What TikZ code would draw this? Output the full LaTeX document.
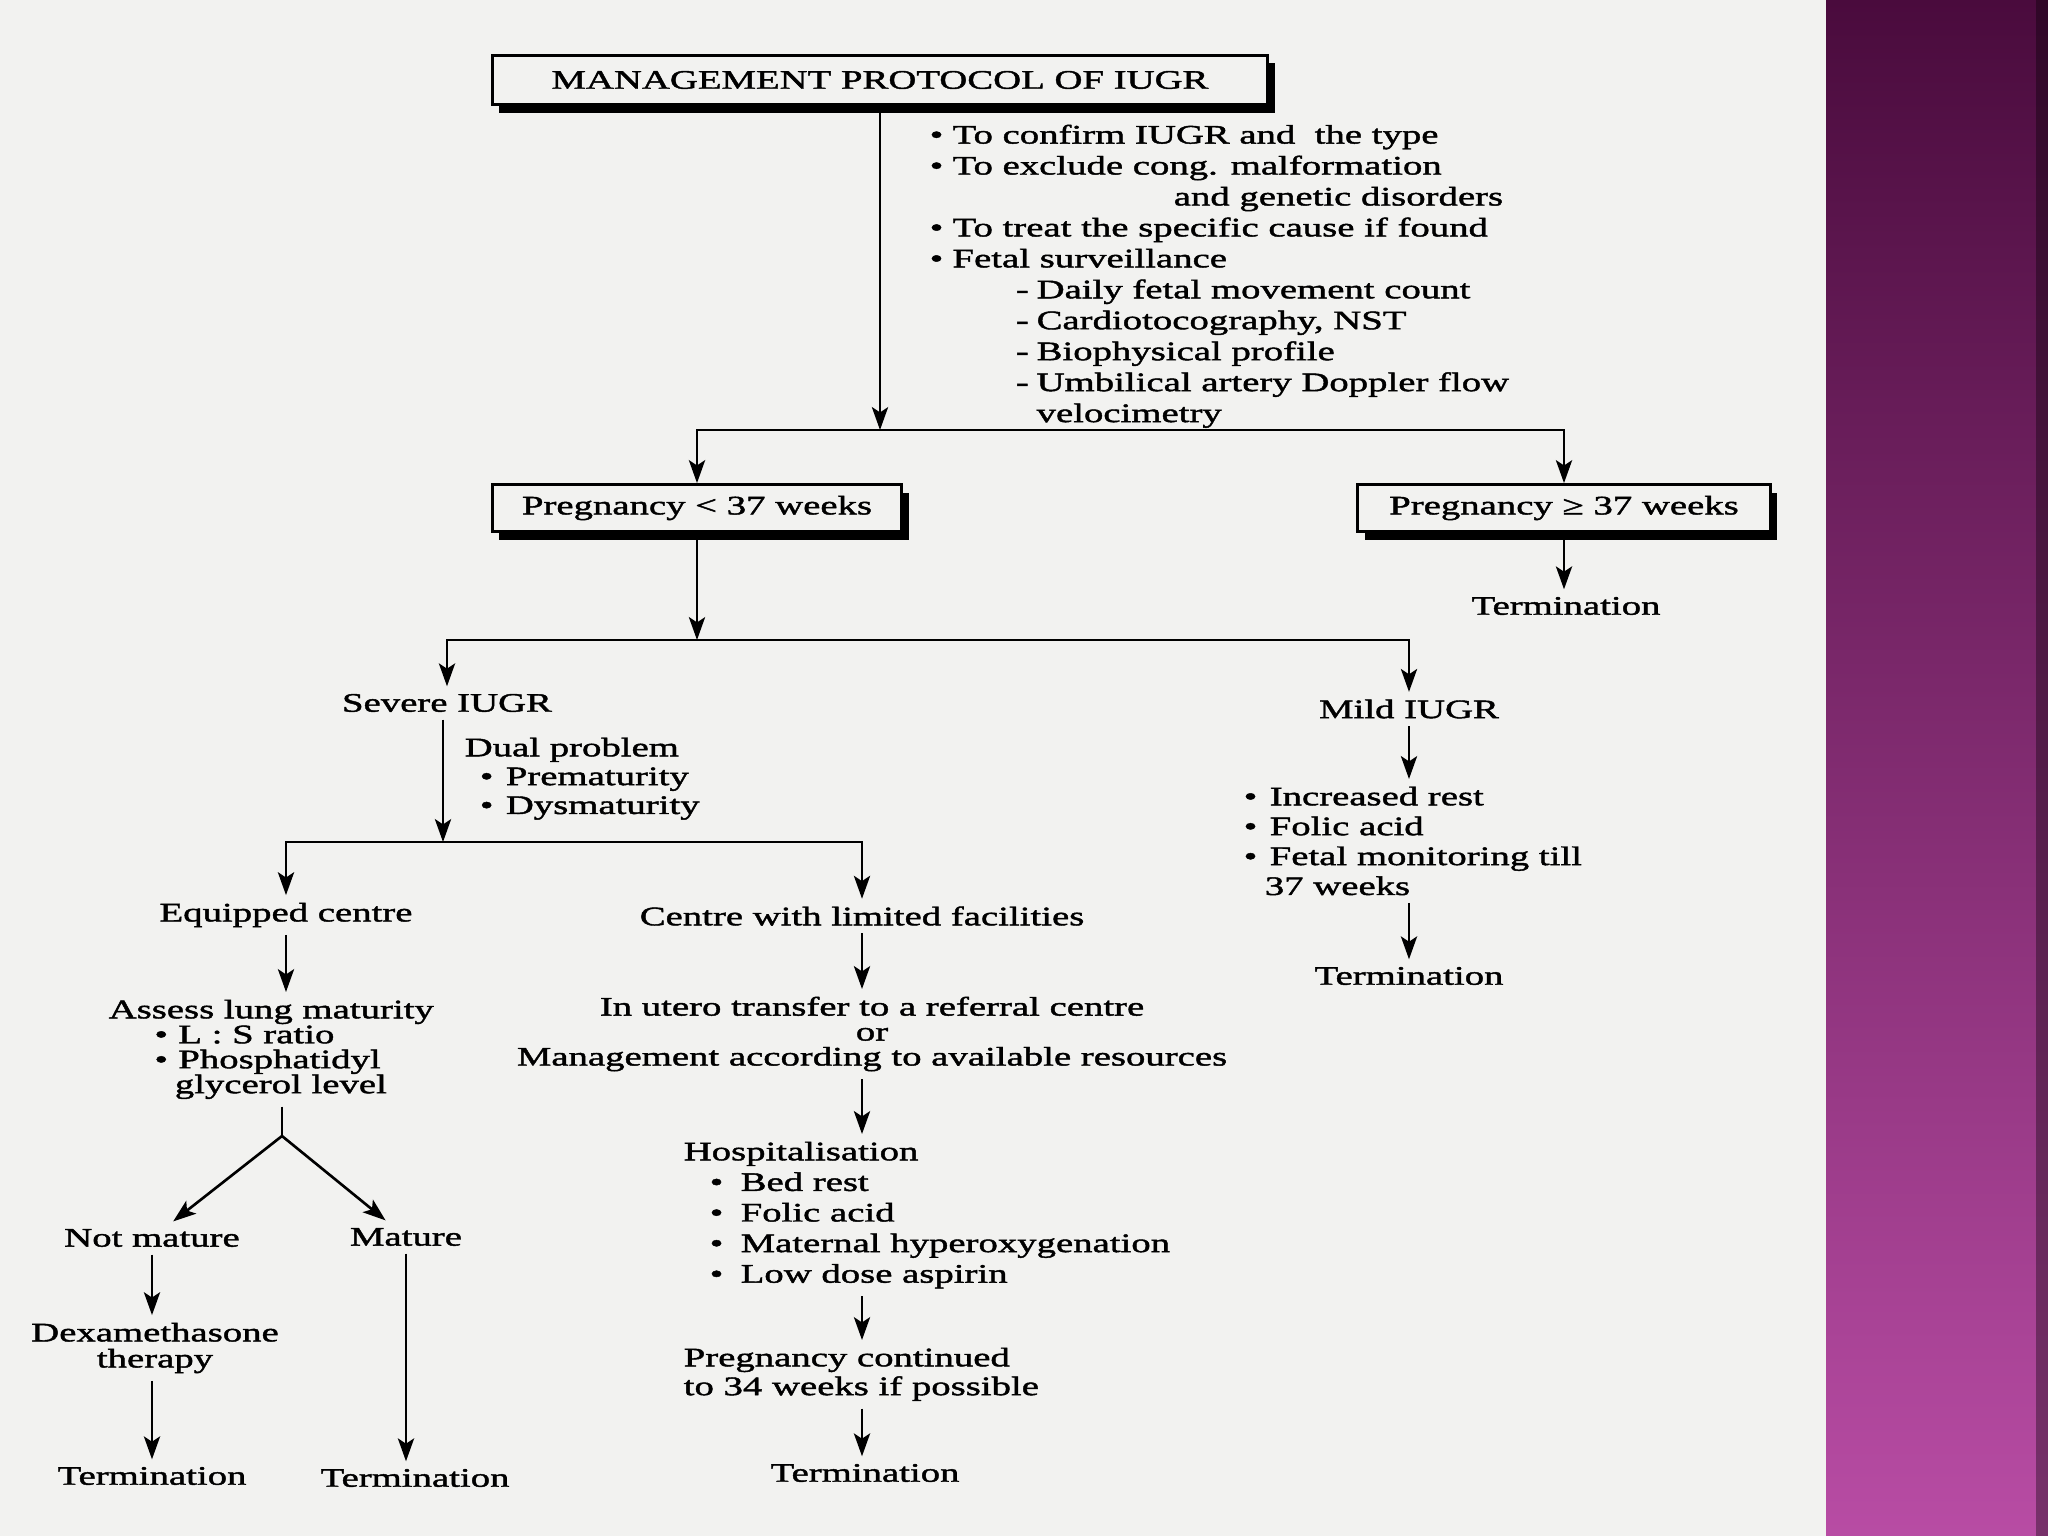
\documentclass[tikz,border=0pt]{standalone}
\usepackage{fontspec}
\setmainfont{Liberation Serif}[FakeStretch=1.45,FakeBold=1.6]
\usetikzlibrary{arrows.meta,shadows}

\definecolor{paper}{HTML}{F2F2F0}
\definecolor{plumtop}{HTML}{4A0B3D}
\definecolor{plummid}{HTML}{7E2E70}
\definecolor{plumbot}{HTML}{B84CA4}

\newcommand{\bul}[1][6.5pt]{\makebox[#1][l]{\textbullet}}
\newcommand{\dsh}{\hspace*{24.5pt}\makebox[5.9pt][l]{-}}

\begin{document}
\begin{tikzpicture}[x=0.01cm, y=-0.01cm,
  txt/.style={font=\fontsize{7.6pt}{8.8pt}\selectfont, inner sep=2pt},
  blk/.style={txt, align=left, anchor=north west, font=\fontsize{7.6pt}{#1}\selectfont},
  blk/.default=8.8pt,
  mid/.style={txt, align=center, font=\fontsize{7.6pt}{#1}\selectfont},
  box/.style={txt, draw, line width=0.8pt, fill=paper,
    drop shadow={fill=black, opacity=1, shadow xshift=0.7mm, shadow yshift=-0.8mm}},
  arr/.style={-{Stealth[length=6.5pt,width=4.6pt,inset=1.5pt]}, line width=0.75pt}]

  % paper and side band
  \useasboundingbox (0,0) rectangle (2048,1536);
  \fill[paper] (0,0) rectangle (1826,1536);
  \shade[top color=plumtop, middle color=plummid, bottom color=plumbot] (1826,0) rectangle (2048,1536);
  \fill[black, opacity=0.35] (2036,0) rectangle (2048,1536);

  % top part
  \node[box, minimum width=7.75cm, minimum height=0.49cm] (title) at (880,80) {MANAGEMENT PROTOCOL OF IUGR};
  \node[blk] (aims) at (922,117) {\bul To confirm IUGR and~ the type\\
    \bul To exclude cong. malformation\\
    \hspace*{69.4pt}and genetic disorders\\
    \bul To treat the specific cause if found\\
    \bul Fetal surveillance\\
    \dsh Daily fetal movement count\\
    \dsh Cardiotocography, NST\\
    \dsh Biophysical profile\\
    \dsh Umbilical artery Doppler flow\\
    \hspace*{30.4pt}velocimetry};
  \coordinate (j1) at (880,430);
  \node[box, minimum width=4.09cm, minimum height=0.47cm] (ltbox) at (697,508) {Pregnancy < 37 weeks};
  \node[box, minimum width=4.12cm, minimum height=0.47cm] (gebox) at (1564,508) {Pregnancy ≥ 37 weeks};
  \node[txt] (term1) at (1566,606) {Termination};

  % severe and mild
  \coordinate (j2) at (697,640);
  \node[txt] (severe) at (447,703) {Severe IUGR};
  \node[txt] (mild) at (1409,709) {Mild IUGR};
  \node[blk=8.2pt] (dual) at (457,730) {Dual problem\\
    \hspace*{4.3pt}\bul[7.4pt]Prematurity\\
    \hspace*{4.3pt}\bul[7.4pt]Dysmaturity};
  \node[blk=8.5pt] (mlist) at (1236,779) {\bul[7.4pt]Increased rest\\
    \bul[7.4pt]Folic acid\\
    \bul[7.4pt]Fetal monitoring till\\
    \hspace*{6pt}37 weeks};
  \node[txt] (term5) at (1409,976) {Termination};

  % the two centres
  \coordinate (j3) at (443,842);
  \node[txt] (equip) at (286,915) {Equipped centre};
  \node[txt] (limited) at (862,916) {Centre with limited facilities};
  \node[blk=7.1pt] (assess) at (101,992) {Assess lung maturity\\
    \hspace*{13pt}\bul[6.8pt]L : S ratio\\
    \hspace*{13pt}\bul[6.8pt]Phosphatidyl\\
    \hspace*{18.8pt}glycerol level};
  \coordinate (fork) at (282,1136);
  \node[txt] (notmat) at (152,1238) {Not mature};
  \node[txt] (mature) at (406,1237) {Mature};
  \node[mid=7.4pt] (dexa) at (155,1348) {Dexamethasone\\therapy};
  \node[txt] (term2) at (152,1476) {Termination};
  \node[txt] (term3) at (415,1478) {Termination};

  \node[mid=7.1pt] (utero) at (872,1034) {In utero transfer to a referral centre\\or\\Management according to available resources};
  \node[blk=8.7pt] (hosp) at (676,1134) {Hospitalisation\\
    \hspace*{7.4pt}\bul[8.8pt]Bed rest\\
    \hspace*{7.4pt}\bul[8.8pt]Folic acid\\
    \hspace*{7.4pt}\bul[8.8pt]Maternal hyperoxygenation\\
    \hspace*{7.4pt}\bul[8.8pt]Low dose aspirin};
  \node[blk=8.2pt] (cont) at (676,1340) {Pregnancy continued\\to 34 weeks if possible};
  \node[txt] (term4) at (865,1473) {Termination};

  % connectors
  \draw[arr] (title) -- (j1);
  \draw[arr] (j1) -| (ltbox);
  \draw[arr] (j1) -| (gebox);
  \draw[arr] (gebox) -- (gebox |- term1.north);
  \draw[arr] (ltbox) -- (j2);
  \draw[arr] (j2) -| (severe);
  \draw[arr] (j2) -| (mild);
  \draw[arr] (severe.south -| j3) -- (j3);
  \draw[arr] (j3) -| (equip);
  \draw[arr] (j3) -| (limited);
  \draw[arr] (mild) -- (mild |- mlist.north);
  \draw[arr] (mlist.south -| mild) -- (term5);
  \draw[arr] (equip) -- (equip |- assess.north);
  \draw[line width=0.75pt] (assess.south -| fork) -- (fork);
  \draw[arr] (fork) -- (notmat);
  \draw[arr] (fork) -- (mature);
  \draw[arr] (notmat) -- (notmat |- dexa.north);
  \draw[arr] (dexa.south -| notmat) -- (notmat |- term2.north);
  \draw[arr] (mature) -- (mature |- term3.north);
  \draw[arr] (limited) -- (limited |- utero.north);
  \draw[arr] (utero.south -| limited) -- (limited |- hosp.north);
  \draw[arr] (hosp.south -| limited) -- (limited |- cont.north);
  \draw[arr] (cont.south -| limited) -- (limited |- term4.north);
\end{tikzpicture}
\end{document}
